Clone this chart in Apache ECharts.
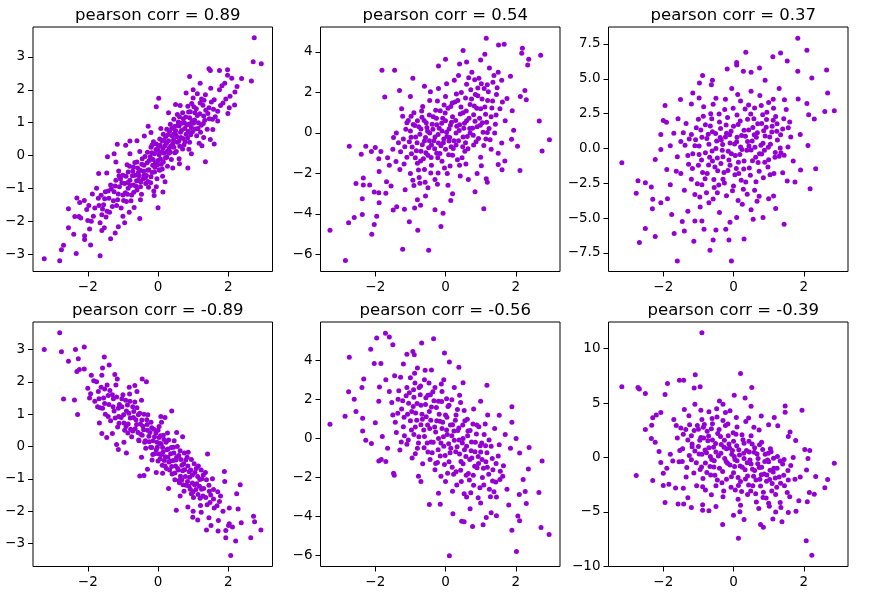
<!DOCTYPE html>
<html>
<head>
<meta charset="utf-8">
<script src="https://cdn.jsdelivr.net/npm/echarts@6/dist/echarts.min.js"></script>
<style>
  html, body { margin: 0; padding: 0; background: #fff; }
  #main { width: 887px; height: 595px; }
</style>
</head>
<body>
<div id="main"></div>
<script>
// titles and ticks
const titles = ['pearson corr = 0.89', 'pearson corr = 0.54', 'pearson corr = 0.37',
  'pearson corr = -0.89', 'pearson corr = -0.56', 'pearson corr = -0.39'];
const xTicks = [-2, 0, 2];
const yTicks1 = [-3, -2, -1, 0, 1, 2, 3];
const yTicks2 = [-6, -4, -2, 0, 2, 4];
const yTicks3 = [-7.5, -5, -2.5, 0, 2.5, 5, 7.5];
const yTicks4 = [-3, -2, -1, 0, 1, 2, 3];
const yTicks5 = [-6, -4, -2, 0, 2, 4];
const yTicks6 = [-10, -5, 0, 5, 10];

// points, [x, y]
const pts1 = [[2.74,3.58],[2.71,2.85],[2.94,2.79],[2.66,2.27],[2.38,2.34],[2.19,1.93],[1.98,2.44],[1.98,2.61],[1.75,2.59],[1.45,2.64],[1.49,2.59],[0.9,2.4],[2.18,1.54],[2.03,1.45],[1.99,1.28],[1.7,1.05],[1.56,0.79],[1.49,0.49],[1.35,-0.19],[0.85,-0.38],[0.61,-0.25],[0.02,1.74],[-0.05,1.48],[-0.28,0.89],[-0.39,0.59],[-0.8,0.44],[-0.92,0.31],[-1.16,0.34],[-1.44,-0.04],[-1.69,-0.55],[-1.46,-0.53],[0,-1.59],[0.14,-1.11],[-0.11,-1.22],[-0.52,-1.92],[-1.13,-2.17],[-1.22,-2.36],[-1.35,-2.53],[-1.65,-3.05],[-1.92,-2.72],[-2.09,-2.44],[-2.09,-2.56],[-2.33,-2.98],[-2.55,-2.2],[-2.55,-1.62],[-2.31,-1.29],[-2.23,-1.43],[-2.1,-1.37],[-2.37,-1.86],[-2.25,-1.86],[-2.69,-2.73],[-2.75,-2.87],[-2.8,-3.2],[-3.24,-3.14],[-1.95,-2.24],[-1.6,-2.28],[-1.53,-2.2],[-2.03,-1.64],[-1.84,-1.85],[-2.0,-1.98],
  [-1.8,-1.6],[-1.7,-1.3],[-1.6,-1.8],[-1.55,-1.5],[-1.5,-1.1],[-1.45,-1.7],[-1.4,-1.3],[-1.35,-0.9],[-1.3,-1.55],[-1.25,-1.1],[-1.2,-0.75],[-1.15,-1.35],[-1.1,-0.95],[-1.05,-1.6],[-1.0,-0.6],[-1.0,-1.2],[-0.95,-0.85],[-0.9,-1.4],[-0.85,-0.5],[-0.85,-1.0],[-0.8,-0.75],[-0.75,-1.2],[-0.7,-0.35],[-0.7,-0.9],[-0.65,-0.6],[-0.6,-1.05],[-0.6,-0.2],[-0.55,-0.75],[-0.5,-0.45],[-0.5,-0.95],[-0.45,-0.1],[-0.4,-0.6],[-0.4,-0.3],[-0.35,-0.85],[-0.3,0.1],[-0.3,-0.45],[-0.25,-0.15],[-0.2,-0.65],[-0.2,0.25],[-0.15,-0.3],[-0.1,0.05],[-0.1,-0.5],[-0.05,0.35],[0,-0.15],[0,0.15],[0.05,-0.45],[0.05,0.5],[0.1,0.1],[0.15,-0.2],[0.15,0.65],[0.2,0.3],[0.25,-0.05],[0.25,0.8],[0.3,0.45],[0.35,0.1],[0.35,0.95],[0.4,0.6],[0.45,0.25],[0.45,1.1],[0.5,0.75],[0.55,0.4],[0.55,1.25],[0.6,0.9],[0.65,0.55],[0.7,1.3],[0.7,0.2],[0.75,1.0],[0.8,0.65],[0.85,1.5],[0.9,1.15],[0.9,0.4],[0.95,0.85],[1.0,1.75],[1.05,1.3],[1.1,0.6],[1.15,1.0],[1.2,1.6],[1.25,0.3],[1.3,1.2],[1.35,1.85],[1.4,0.8],[1.45,1.45],[1.5,2.05],[1.55,1.1],[1.6,1.7],[1.7,1.35],[1.75,2.0],[1.85,1.6],[1.9,2.2],[2.05,1.8],[2.1,2.35],[2.25,2.1],
  [-2.2,-1.9],[-1.9,-2.0],[-1.75,-1.0],[-1.2,-0.2],[-1.0,-1.85],[-0.8,0.05],[-0.5,-1.35],[-0.2,0.7],[0.2,-0.8],[0.5,1.55],[0.6,-0.1],[0.95,0.05],[1.0,2.0],[1.2,2.2],[1.3,0.55],[-0.95,-2.05],[-1.65,-2.05],[0.3,1.3],[0.8,1.9],[-0.05,-0.95],[-0.6,0.45],[-1.25,0.05],[1.6,0.35],[-2.4,-2.4],
  [-1.62,-1.21],[-1.48,-1.87],[-1.33,-1.02],[-1.18,-1.52],[-1.07,-0.71],[-0.93,-1.13],[-0.88,-0.28],[-0.77,-1.38],[-0.73,-0.62],[-0.63,-0.93],[-0.58,-0.38],[-0.47,-1.18],[-0.42,-0.71],[-0.37,-0.03],[-0.33,-0.61],[-0.27,-0.97],[-0.22,-0.04],[-0.17,-0.52],[-0.13,0.42],[-0.07,-0.23],[-0.03,-0.71],[0.02,0.27],[0.07,-0.11],[0.12,0.44],[0.13,-0.63],[0.18,0.07],[0.22,0.58],[0.27,-0.33],[0.32,0.22],[0.33,0.73],[0.38,-0.12],[0.42,0.36],[0.47,0.88],[0.52,0.12],[0.53,0.57],[0.58,1.02],[0.62,0.28],[0.67,0.76],[0.72,1.12],[0.77,0.42],[0.82,0.93],[0.87,1.32],[0.88,0.19],[0.93,0.63],[0.97,1.05],[1.02,1.48],[1.07,0.81],[1.12,1.22],[1.17,0.37],[1.23,0.92],[1.28,1.53],[1.33,1.07],[1.42,1.28],[1.52,1.63],[1.63,1.18],[1.78,1.52],[1.82,2.12],[1.93,1.72],[-1.97,-1.52],[-1.87,-1.17],[-1.38,-1.73],[-0.68,-1.58],[-0.12,-1.08],[0.42,-0.38],[0.63,1.52],[1.12,1.88],[-1.12,-0.47],[-0.52,0.12],[0.08,0.82],[-0.82,-1.73],
  [-1.27,-1.38],[-1.22,-0.93],[-1.13,-1.17],[-1.03,-0.83],[-0.98,-1.37],[-0.91,-0.63],[-0.87,-1.18],[-0.79,-0.91],[-0.72,-0.48],[-0.69,-1.12],[-0.61,-0.77],[-0.56,-0.52],[-0.49,-0.81],[-0.46,-0.27],[-0.41,-0.48],[-0.36,-0.67],[-0.31,-0.22],[-0.26,-0.43],[-0.21,-0.83],[-0.18,0.08],[-0.14,-0.12],[-0.09,-0.36],[-0.06,0.18],[-0.02,-0.28],[0.03,0.02],[0.06,0.31],[0.09,-0.27],[0.14,0.21],[0.17,0.47],[0.21,-0.08],[0.24,0.37],[0.28,0.63],[0.31,0.07],[0.36,0.28],[0.39,0.82],[0.44,0.47],[0.48,0.08],[0.51,0.62],[0.56,0.92],[0.59,0.43],[0.64,0.71],[0.68,0.98],[0.71,0.52],[0.76,0.82],[0.79,1.17],[0.84,0.53],[0.89,0.96],[0.92,1.33],[0.98,0.72],[1.04,1.08],[1.09,1.42],[1.14,0.82],[1.19,1.27],[1.24,1.72],[1.29,0.97],[1.36,1.38],[1.46,1.12],[1.58,1.41],[-1.42,-1.08],[-1.52,-1.32],[-1.58,-1.63],[-1.68,-1.52],[-1.11,-0.62],[-0.86,-0.82],[-0.66,-0.21],[-0.29,-0.79],[0.12,-0.41],[0.46,0.66],[0.74,0.33],[1.01,0.98],[1.31,1.68],[-0.54,-0.62],[0.03,-0.43],[0.61,1.18],[0.86,0.74],[-0.81,-0.33],[-0.17,0.32],[0.27,0.14],[1.21,0.71],[0.96,1.58]];

const pts2 = [[1.16,4.67],[1.51,4.34],[1.67,4.38],[2.19,4.18],[2.17,3.93],[2.71,3.84],[2.37,3.64],[2.34,3.36],[0.5,4.07],[0,3.64],[1.12,3.89],[-1.81,3.1],[-1.45,3.1],[-0.93,2.7],[-1.73,1.77],[-1.31,2.1],[2.67,0.59],[2.96,-0.34],[2.75,-0.89],[2.13,1.8],[2.3,1.64],[2.26,2.1],[-2.74,-0.66],[-2.4,-1.05],[-2.27,-0.66],[-2.0,-0.72],[-2.11,-0.92],[-2.55,-2.49],[-2.34,-2.23],[-2.34,-2.57],[-2.37,-3.25],[-2.16,-2.57],[-3.29,-4.8],[-2.76,-4.43],[-2.6,-4.18],[-2.37,-4.03],[-2.85,-6.3],[-2.1,-5.0],[-2.03,-4.52],[-1.96,-4.11],[-1.22,-5.74],[-0.48,-5.79],[-0.79,-4.8],[-0.13,-4.62],[-0.07,-3.97],[-1.03,-4.38],[1.09,-3.74],[0.84,-2.9],[1.16,-2.26],[1.19,-2.44],[1.61,-1.82],[2.12,-1.85],[1.69,-1.39],[1.5,-1.56],[2.05,-0.66],[1.88,-0.31],[1.94,0.13],[0.15,-3.34],[-0.3,-3.79],[-0.57,-3.11],[-1.49,-3.8],[-1.39,-3.64],[-1.17,-3.77],[-0.88,-3.7],[-0.71,-3.57],[-1.89,-3.44],[-1.7,-2.98],[-1.9,-2.95],[-2.03,-2.92],[-1.89,-1.9],[-1.68,-2.41],[-1.55,-2.62],[-1.84,-0.92],[-1.9,-1.28],[-1.65,-1.23],[-1.41,-1.41],
  [-1.2,-0.3],[-1.1,0.5],[-1.1,-1.2],[-1.0,-2.0],[-1.0,0.1],[-0.95,-0.7],[-0.9,1.0],[-0.9,-2.6],[-0.85,-0.2],[-0.8,-1.5],[-0.8,0.6],[-0.75,-2.2],[-0.7,-0.9],[-0.7,0.2],[-0.65,1.3],[-0.6,-0.4],[-0.6,-1.8],[-0.55,0.5],[-0.5,-1.1],[-0.5,-2.7],[-0.45,0.0],[-0.45,1.6],[-0.4,-0.6],[-0.4,-1.6],[-0.35,0.8],[-0.3,-0.2],[-0.3,-2.3],[-0.25,0.4],[-0.25,-1.0],[-0.2,2.2],[-0.2,-0.5],[-0.15,1.1],[-0.1,0.1],[-0.1,-1.4],[-0.05,-0.3],[0,0.6],[0,-0.8],[0,1.8],[0.05,-2.0],[0.1,0.2],[0.1,-0.4],[0.15,1.3],[0.2,-1.1],[0.2,0.8],[0.25,2.6],[0.3,0.0],[0.3,-0.6],[0.35,1.6],[0.4,0.4],[0.4,-1.6],[0.45,2.0],[0.5,-0.2],[0.5,1.0],[0.55,-0.9],[0.6,0.6],[0.6,2.4],[0.65,-2.3],[0.7,1.4],[0.7,0.0],[0.75,3.0],[0.8,0.9],[0.8,-0.6],[0.85,1.9],[0.9,0.3],[0.95,2.7],[1.0,-1.2],[1.0,1.2],[1.05,0.5],[1.1,2.2],[1.15,-0.3],[1.2,1.6],[1.25,3.2],[1.3,0.8],[1.35,2.5],[1.4,0.0],[1.45,1.9],[1.5,3.0],[1.55,1.2],[1.6,2.6],[1.7,0.6],[1.75,1.7],[1.85,2.8],[1.9,1.1],[-1.3,-1.8],[-1.4,0.0],[-1.5,-0.8],[-1.6,-1.6],[-1.25,1.2],[-1.15,-2.8],[-0.2,3.3],[0.4,3.4],[0.9,-2.0],[0.2,-3.0],[-0.8,-3.3],[-0.6,2.3],[1.3,-0.8],[1.6,-0.5],[0.6,3.5],[1.0,3.6],[-1.0,1.8],[1.5,-1.0],
  [-1.13,0.18],[-1.03,-0.43],[-0.97,-1.03],[-0.87,0.37],[-0.83,-0.88],[-0.77,-1.83],[-0.73,-0.07],[-0.67,0.78],[-0.63,-1.27],[-0.57,-0.23],[-0.53,0.27],[-0.48,-0.73],[-0.42,-1.98],[-0.38,0.43],[-0.33,-0.38],[-0.28,1.12],[-0.22,-1.23],[-0.18,0.23],[-0.13,-0.63],[-0.08,0.72],[-0.03,-1.73],[0.03,0.03],[0.07,1.22],[0.12,-0.23],[0.17,0.53],[0.22,-0.77],[0.27,1.53],[0.32,0.33],[0.37,-0.38],[0.42,0.93],[0.47,-1.23],[0.52,0.23],[0.57,1.72],[0.62,-0.18],[0.67,0.73],[0.72,2.13],[0.77,0.23],[0.82,1.33],[0.87,-0.43],[0.92,1.83],[0.97,0.73],[1.02,2.43],[1.07,0.03],[1.12,1.28],[1.17,0.53],[1.22,2.03],[1.32,1.23],[1.42,0.43],[1.47,2.23],[1.62,1.53],[-1.28,-0.93],[-1.18,-1.53],[-0.93,-2.33],[-0.58,-2.43],[-0.23,-2.53],[0.13,-1.63],[0.58,-1.53],[1.27,-0.33],[-1.48,-0.23],[-0.98,0.83],[-0.43,2.03],[0.03,2.43],[0.37,2.83],[0.83,2.63],[1.38,2.83],
  [-0.98,-0.21],[-0.92,0.42],[-0.86,-1.22],[-0.81,-0.48],[-0.76,0.31],[-0.71,-1.38],[-0.66,-0.58],[-0.61,0.62],[-0.56,-0.98],[-0.51,0.08],[-0.46,-0.38],[-0.41,-1.21],[-0.36,0.18],[-0.31,-0.78],[-0.26,0.72],[-0.21,-0.08],[-0.16,-1.02],[-0.11,0.48],[-0.06,-0.48],[-0.01,0.98],[0.04,-0.18],[0.09,-1.08],[0.14,0.38],[0.19,1.48],[0.24,-0.38],[0.29,0.62],[0.34,-1.32],[0.39,0.12],[0.44,1.28],[0.49,-0.68],[0.54,0.48],[0.59,1.08],[0.64,-0.78],[0.69,0.22],[0.74,1.68],[0.79,-0.12],[0.84,0.58],[0.89,1.22],[0.94,-0.28],[0.99,0.38],[1.04,1.68],[1.09,-0.62],[1.14,0.92],[1.19,2.38],[1.24,0.22],[1.34,1.58],[1.44,0.88],[-1.06,0.62],[-1.16,-0.68],[-0.68,1.08],[-0.23,1.58],[0.31,1.92],[0.66,2.72],[-0.73,-2.48],[-0.21,-1.98],[0.42,-2.12],[1.02,-1.62],[-0.46,0.88],[0.16,-0.68],[0.57,-0.48],[-0.04,1.38],[1.19,0.02],[0.92,2.22],[-1.22,0.82],[-1.34,-0.48],[0.07,-2.58]];

const pts3 = [[1.83,7.92],[2.09,7.06],[1.34,6.85],[1.12,6.59],[1.53,6.28],[0.35,6.9],[0.09,6.18],[0.09,5.99],[2.65,5.63],[2.23,5.06],[1.83,5.54],[2.68,3.99],[2.87,2.7],[2.6,2.65],[2.09,3.22],[2.3,2.12],[1.84,3.56],[2.14,2.43],[2.12,0.21],[2.34,-1.46],[1.91,-1.55],[2.18,-2.89],[1.44,-5.44],[-3.18,-1.03],[-2.72,-2.32],[-2.51,-2.46],[-2.77,-3.22],[-2.68,-6.75],[-2.51,-5.75],[-2.23,-6.32],[-2.3,-3.65],[-2.31,-4.32],[-2.07,-3.89],[-2.34,-2.77],[-2.23,-0.79],[-2.07,-0.07],[-2.07,1.0],[-1.95,3.08],[-1.91,1.89],[-1.51,3.51],[-1.16,3.99],[-0.88,5.23],[-0.97,4.7],[-0.63,4.58],[-0.18,5.7],[0.28,5.54],[0.5,5.47],[0.74,5.78],[-1.6,-8.07],[-0.06,-8.07],[-0.67,-7.3],[-0.13,-6.56],[-0.58,-6.56],[-1.13,-6.66],[-1.69,-6.11],[-1.76,-4.73],[-1.88,-3.6],[-1.46,-5.25],[-1.4,-5.92],[-0.84,-5.8],[-0.5,-5.85],[-0.22,-5.8],[0.09,-4.96],[0.56,-5.08],[0.84,-4.96],[1.14,-3.41],[1.53,-2.34],[1.4,-1.74],[1.3,-0.55],
  [-1.3,-0.5],[-1.2,1.0],[-1.2,-2.2],[-1.1,0.2],[-1.1,-3.3],[-1.0,2.1],[-1.0,-1.2],[-0.95,-4.2],[-0.9,0.8],[-0.9,-2.6],[-0.85,3.0],[-0.8,-0.3],[-0.8,1.7],[-0.75,-1.8],[-0.7,0.3],[-0.7,-3.9],[-0.65,2.5],[-0.6,-0.9],[-0.6,1.2],[-0.55,-2.8],[-0.5,0.0],[-0.5,3.6],[-0.45,-1.6],[-0.4,1.9],[-0.4,-4.6],[-0.35,0.6],[-0.3,-0.6],[-0.3,-2.2],[-0.25,2.8],[-0.2,1.1],[-0.2,-3.4],[-0.15,-0.2],[-0.1,0.4],[-0.1,-1.2],[-0.05,4.3],[0,1.6],[0,-2.7],[0.05,-0.5],[0.1,0.8],[0.1,2.4],[0.15,-1.8],[0.2,0.1],[0.2,3.4],[0.25,-4.0],[0.3,1.3],[0.3,-0.9],[0.35,-2.4],[0.4,0.5],[0.4,2.1],[0.45,-1.4],[0.5,4.1],[0.5,-0.1],[0.55,1.5],[0.6,-3.0],[0.6,2.9],[0.65,0.8],[0.7,-1.0],[0.75,3.8],[0.8,1.8],[0.8,-0.4],[0.85,-2.1],[0.9,0.9],[0.95,2.6],[1.0,-0.8],[1.0,3.3],[1.05,0.3],[1.1,1.6],[1.15,-1.8],[1.2,2.3],[1.25,0.6],[1.3,4.3],[1.35,-0.3],[1.4,1.4],[1.5,2.8],[1.55,0.1],[1.6,1.9],[1.7,-0.9],[-1.5,0.5],[-1.5,-1.8],[-1.4,-3.0],[-1.35,1.8],[-1.6,-0.6],[-1.7,1.1],[-1.8,-2.6],[-1.9,-1.5],[-1.3,-4.5],[-1.1,-5.2],[-0.1,-5.3],[0.5,-4.4],[1.0,-3.6],[1.2,-4.3],[-0.6,4.9],[0.9,4.9],[1.45,3.5],[1.9,1.0],[1.75,-2.4],[-2.0,2.0],[-1.8,0.2],[-1.2,3.2],[0.3,-6.5],[-0.9,-5.2],
  [-1.17,-1.43],[-1.08,0.63],[-0.98,-0.43],[-0.93,1.33],[-0.88,-1.73],[-0.77,-3.17],[-0.72,1.03],[-0.68,-0.63],[-0.62,2.13],[-0.53,-1.33],[-0.48,0.53],[-0.42,-2.63],[-0.37,1.43],[-0.32,-0.13],[-0.27,-1.73],[-0.23,0.83],[-0.17,2.23],[-0.13,-0.83],[-0.07,1.23],[-0.03,-3.03],[0.03,0.33],[0.08,-1.43],[0.13,1.73],[0.18,-0.43],[0.23,0.93],[0.28,-2.93],[0.33,2.83],[0.38,-0.13],[0.43,1.33],[0.48,-1.93],[0.53,0.53],[0.58,2.13],[0.63,-0.63],[0.68,1.13],[0.73,-1.63],[0.78,0.23],[0.83,2.43],[0.88,-0.13],[0.93,1.53],[0.98,-1.33],[1.03,0.83],[1.13,2.03],[1.18,-0.63],[1.23,1.23],[1.33,0.03],[1.43,2.13],[-1.38,0.23],[-1.28,-1.13],[-1.43,1.13],[-1.03,-2.53],[-0.58,-3.63],[0.13,-3.73],[0.73,-3.43],[-0.23,3.53],[0.43,3.13],[1.13,3.53],[1.63,0.83],[-1.63,-1.63],[-1.58,2.13],[-0.98,3.63],
  [-0.98,0.18],[-0.91,-0.82],[-0.86,2.32],[-0.81,-2.18],[-0.76,0.72],[-0.71,-1.18],[-0.66,1.62],[-0.61,-0.18],[-0.56,-2.22],[-0.51,1.08],[-0.46,-0.68],[-0.41,2.48],[-0.36,-1.08],[-0.31,0.28],[-0.26,-2.48],[-0.21,1.68],[-0.16,-1.58],[-0.11,0.98],[-0.06,-0.38],[-0.01,2.88],[0.04,-1.88],[0.09,0.48],[0.14,-0.98],[0.19,1.98],[0.24,-0.08],[0.29,-1.48],[0.34,0.88],[0.39,-3.28],[0.44,0.18],[0.49,2.48],[0.54,-0.88],[0.59,0.98],[0.64,-2.38],[0.69,1.78],[0.74,-0.38],[0.79,3.08],[0.84,0.38],[0.89,-0.98],[0.94,2.08],[0.99,0.08],[1.04,-1.88],[1.09,1.18],[1.14,2.88],[1.19,-0.28],[1.24,1.78],[1.34,0.98],[1.44,-0.48],[-1.06,1.48],[-1.16,-0.38],[-1.26,0.68],[-0.58,3.18],[0.12,3.88],[-0.46,-3.18],[0.67,-3.78],[-0.96,-3.48],[1.56,1.48],[0.22,-2.28],[-0.38,0.78],[0.61,0.08],[0.86,1.28]];

const pts4 = [[-2.8,3.52],[-3.24,3.0],[-2.75,2.93],[-2.55,2.64],[-2.35,3.0],[-2.27,2.71],[-2.1,3.08],[-2.69,1.47],[-2.38,1.44],[-2.29,0.99],[-2.31,2.32],[-2.24,2.38],[-1.53,2.77],[-1.39,2.52],[-1.16,2.09],[-0.66,1.89],[-0.45,2.09],[-0.33,2.0],[0.39,1.1],[-1.18,0.06],[-1.13,-0.09],[-1.46,0.28],[-0.52,-0.91],[0.52,-1.97],[0.85,-1.87],[0.95,-1.46],[1.41,-0.23],[1.89,-0.77],[1.9,-1.08],[2.34,-1.18],[2.24,-1.46],[2.03,-1.9],[2.28,-1.93],[2.37,-2.36],[2.72,-2.16],[2.75,-2.33],[2.93,-2.58],[2.64,-2.82],[2.21,-2.92],[2.07,-3.37],[1.93,-2.82],[1.93,-2.6],[1.71,-2.61],[1.51,-2.44],[1.38,-2.58],[2.01,-2.44],[2.12,-2.49],[0.99,-2.19],[1.13,-2.27],[2.03,-2.39],[1.72,-2.29],
  [-2.0,1.8],[-1.9,2.2],[-1.8,1.4],[-1.75,2.0],[-1.7,1.7],[-1.65,1.2],[-1.6,2.2],[-1.55,1.5],[-1.5,1.0],[-1.45,1.9],[-1.4,1.3],[-1.35,0.8],[-1.3,1.6],[-1.25,1.1],[-1.2,1.9],[-1.15,0.6],[-1.1,1.3],[-1.05,0.9],[-1.0,1.6],[-0.95,0.5],[-0.9,1.1],[-0.85,0.7],[-0.8,1.4],[-0.75,0.3],[-0.7,0.9],[-0.65,0.55],[-0.6,1.2],[-0.55,0.2],[-0.5,0.7],[-0.45,0.35],[-0.4,1.0],[-0.35,-0.05],[-0.3,0.5],[-0.25,0.15],[-0.2,0.75],[-0.15,-0.25],[-0.1,0.3],[-0.05,-0.1],[0,0.5],[0,-0.45],[0.05,0.1],[0.1,-0.25],[0.15,0.35],[0.2,-0.6],[0.25,-0.1],[0.3,0.2],[0.35,-0.45],[0.4,-0.85],[0.45,-0.2],[0.5,-0.6],[0.55,0.0],[0.6,-1.05],[0.65,-0.4],[0.7,-0.75],[0.75,-0.2],[0.8,-1.2],[0.85,-0.6],[0.9,-0.95],[0.95,-0.4],[1.0,-1.4],[1.05,-0.8],[1.1,-1.15],[1.15,-0.6],[1.2,-1.6],[1.25,-1.0],[1.3,-1.3],[1.35,-0.8],[1.4,-1.8],[1.45,-1.2],[1.5,-1.5],[1.55,-1.0],[1.6,-1.9],[1.7,-1.4],[1.75,-1.7],[1.85,-2.0],[-2.1,2.4],[-1.95,1.5],[-1.3,0.4],[-0.6,1.7],[0.2,0.9],[0.7,0.3],[-0.9,-0.2],[-0.3,-0.7],[0.3,-1.3],[1.0,-2.0],[-0.4,-0.9],[-1.6,0.4],[1.45,-2.2],[0.1,0.75],[-0.05,-0.8],
  [-1.92,1.63],[-1.83,2.03],[-1.72,1.23],[-1.62,1.83],[-1.52,1.33],[-1.42,0.93],[-1.37,1.73],[-1.28,1.23],[-1.18,1.53],[-1.12,0.93],[-1.03,1.23],[-0.97,0.73],[-0.92,1.43],[-0.83,1.03],[-0.78,0.53],[-0.72,1.23],[-0.63,0.83],[-0.57,0.43],[-0.52,1.03],[-0.43,0.63],[-0.38,0.13],[-0.32,0.83],[-0.23,0.43],[-0.18,-0.03],[-0.12,0.53],[-0.03,0.13],[0.03,-0.23],[0.07,0.33],[0.13,-0.03],[0.18,-0.43],[0.23,0.13],[0.28,-0.33],[0.33,-0.73],[0.38,-0.03],[0.43,-0.43],[0.48,-1.03],[0.53,-0.33],[0.58,-0.73],[0.63,-0.13],[0.68,-1.03],[0.73,-0.53],[0.78,-0.93],[0.83,-0.33],[0.88,-1.23],[0.93,-0.73],[0.98,-1.13],[1.03,-0.53],[1.08,-1.33],[1.13,-0.93],[1.18,-1.23],[1.23,-0.73],[1.28,-1.53],[1.38,-1.03],[1.48,-1.73],[1.58,-1.33],[1.68,-1.83],[1.78,-1.53],[-1.58,2.43],[-1.23,2.23],[-0.82,1.83],[-0.47,1.43],[0.08,0.93],[0.53,0.43],[-1.67,0.73],[-0.97,0.13],[-0.47,-0.33],[0.13,-0.83],[0.63,-1.53],[1.23,-2.03],
  [-1.27,1.48],[-1.22,0.88],[-1.13,1.18],[-1.03,1.48],[-0.98,0.98],[-0.91,0.62],[-0.87,1.28],[-0.79,0.88],[-0.72,0.48],[-0.69,1.08],[-0.61,0.68],[-0.56,0.98],[-0.49,0.38],[-0.46,0.82],[-0.41,0.52],[-0.36,0.18],[-0.31,0.68],[-0.26,0.32],[-0.21,-0.02],[-0.18,0.58],[-0.14,0.18],[-0.09,-0.22],[-0.06,0.42],[-0.02,-0.02],[0.03,0.28],[0.06,-0.38],[0.09,0.08],[0.14,-0.18],[0.17,0.22],[0.21,-0.32],[0.24,-0.68],[0.28,-0.08],[0.31,-0.48],[0.36,-0.22],[0.39,-0.62],[0.44,-0.02],[0.48,-0.82],[0.51,-0.42],[0.56,-0.68],[0.59,-0.28],[0.64,-0.92],[0.68,-0.58],[0.71,-1.18],[0.76,-0.72],[0.79,-0.42],[0.84,-1.08],[0.89,-0.78],[0.92,-1.32],[0.98,-0.88],[1.04,-1.18],[1.09,-0.68],[1.14,-1.48],[1.19,-1.02],[1.24,-1.32],[1.29,-0.88],[1.36,-1.58],[1.46,-1.38],[1.58,-1.62],[-1.42,1.58],[-1.52,1.78],[-1.58,1.18],[-1.68,1.48],[-1.11,0.72],[-0.86,0.42],[-0.66,1.38],[-0.29,0.98],[0.12,-0.58],[0.46,0.18],[0.74,-1.38],[1.01,-1.58],[-0.54,0.18],[0.03,0.62],[0.61,-1.12],[0.86,-0.18],[-0.81,1.62],[-0.17,-0.42],[0.27,0.42],[1.21,-1.82]];

const pts5 = [[-3.29,0.72],[-2.86,1.13],[-2.74,4.15],[-2.76,2.39],[-2.6,2.0],[-2.55,1.38],[-2.36,1.03],[-2.36,0.38],[-2.27,-0.09],[-2.38,2.6],[-2.33,3.04],[-2.11,-0.26],[-1.71,5.38],[-1.96,5.13],[-2.13,4.56],[-2.03,3.83],[-1.84,3.83],[-1.6,5.18],[-1.5,4.79],[-0.93,4.44],[-0.89,4.27],[-0.68,4.87],[-0.34,5.09],[-0.03,4.36],[0.11,3.9],[0.38,3.64],[-1.9,-1.15],[-1.83,-1.08],[-1.7,-1.18],[-1.48,-1.78],[-1.46,-1.88],[-0.77,-1.93],[-0.46,-3.38],[-0.15,-3.37],[0.11,-6.0],[0.21,-3.85],[0.46,-4.24],[0.53,-4.26],[0.77,-4.51],[1.07,-4.41],[1.16,-4.05],[1.45,-3.95],[1.89,-4.7],[2.02,-5.78],[2.06,-3.97],[2.11,-4.21],[2.72,-4.56],[2.95,-4.91],[2.66,-2.77],[2.27,-2.72],[2.3,-3.33],[2.1,-2.87],[2.21,-2.1],[2.36,-1.57],[2.38,-0.46],[2.75,-1.15],[2.11,-0.75],[2.01,0.0],[1.89,1.62],[1.89,0.82],[1.53,1.18],[1.18,2.72],[0.5,2.84],[1.85,-0.51],
  [-1.6,2.4],[-1.5,1.2],[-1.45,3.2],[-1.4,0.3],[-1.35,2.0],[-1.3,-0.6],[-1.25,1.5],[-1.2,3.8],[-1.2,0.6],[-1.1,2.6],[-1.1,-0.3],[-1.05,1.8],[-1.0,0.9],[-1.0,3.1],[-0.95,-1.0],[-0.9,2.1],[-0.9,0.2],[-0.85,1.3],[-0.8,3.6],[-0.8,-0.5],[-0.75,2.6],[-0.7,0.7],[-0.7,1.7],[-0.65,-1.3],[-0.6,3.0],[-0.6,0.1],[-0.55,1.1],[-0.5,2.2],[-0.5,-0.7],[-0.45,0.5],[-0.4,1.6],[-0.4,3.5],[-0.35,-0.2],[-0.3,2.6],[-0.3,-1.6],[-0.25,0.9],[-0.2,0.0],[-0.2,1.9],[-0.15,-0.9],[-0.1,0.5],[-0.1,2.4],[-0.05,-0.4],[0,1.2],[0,-2.2],[0.05,0.2],[0.1,-1.2],[0.1,1.7],[0.15,-0.5],[0.2,0.7],[0.2,-2.7],[0.25,-0.1],[0.3,1.2],[0.3,-1.7],[0.35,0.4],[0.4,-0.8],[0.4,2.2],[0.45,-2.2],[0.5,0.0],[0.5,-1.3],[0.55,0.9],[0.6,-0.4],[0.6,-3.0],[0.65,-1.8],[0.7,0.4],[0.75,-1.0],[0.8,1.5],[0.8,-2.4],[0.85,-0.2],[0.9,-1.5],[0.95,0.6],[1.0,-3.3],[1.0,-0.7],[1.05,-2.0],[1.1,0.2],[1.15,-1.2],[1.2,1.2],[1.25,-2.6],[1.3,-0.4],[1.35,-1.6],[1.4,0.5],[1.45,-3.0],[1.5,-0.9],[1.55,-2.1],[1.65,-1.4],[1.7,0.2],[1.75,-2.6],[-1.9,1.9],[-1.8,0.1],[-1.7,3.0],[-1.65,-0.5],[-2.0,0.8],[1.8,-3.4],[1.3,-3.8],[0.7,-3.6],[-0.2,-2.8],[-0.7,-2.2],[-1.1,4.3],[1.0,1.9],[-0.05,3.0],[0.25,2.6],
  [-1.43,0.83],[-1.33,2.43],[-1.22,1.93],[-1.17,0.13],[-1.08,1.23],[-1.03,2.33],[-0.97,0.43],[-0.92,1.63],[-0.87,2.83],[-0.82,0.93],[-0.77,-0.23],[-0.72,2.23],[-0.67,1.23],[-0.62,0.43],[-0.57,1.73],[-0.52,-0.23],[-0.47,2.83],[-0.42,0.93],[-0.38,-0.73],[-0.33,1.93],[-0.28,0.33],[-0.23,-1.23],[-0.18,1.23],[-0.13,-0.23],[-0.08,0.83],[-0.03,-1.33],[0.03,0.43],[0.07,1.63],[0.13,-0.73],[0.18,0.13],[0.23,-1.83],[0.28,0.93],[0.33,-0.43],[0.38,0.53],[0.43,-1.63],[0.48,-0.23],[0.53,1.43],[0.58,-0.93],[0.63,0.13],[0.68,-2.13],[0.73,-0.63],[0.78,0.73],[0.83,-1.43],[0.88,0.23],[0.93,-0.93],[0.98,-2.53],[1.03,-0.23],[1.08,-1.53],[1.13,0.73],[1.18,-0.73],[1.23,-1.83],[1.33,-1.03],[1.43,-2.23],[1.53,-0.33],[1.63,-1.93],[-1.53,1.83],[-1.28,3.13],[-0.88,3.33],[-0.43,2.23],[0.03,2.03],[0.43,1.83],[0.93,-3.03],[0.53,-2.83],[-0.13,-1.93],[1.38,-2.73],[-1.88,2.63],
  [-1.18,1.08],[-1.12,2.18],[-1.06,-0.08],[-0.96,1.38],[-0.91,2.48],[-0.86,0.58],[-0.81,1.78],[-0.76,0.08],[-0.71,2.68],[-0.66,0.98],[-0.61,-0.48],[-0.56,2.08],[-0.51,0.68],[-0.46,1.38],[-0.41,-0.18],[-0.36,2.38],[-0.31,0.58],[-0.26,1.58],[-0.21,-0.58],[-0.16,0.88],[-0.11,1.88],[-0.06,0.08],[-0.01,-0.88],[0.04,1.08],[0.09,-0.28],[0.14,0.68],[0.19,-1.48],[0.24,0.38],[0.29,-0.68],[0.34,1.48],[0.39,-0.08],[0.44,-1.18],[0.49,0.68],[0.54,-0.58],[0.59,-1.88],[0.64,0.38],[0.69,-1.08],[0.74,-0.18],[0.79,-1.88],[0.84,-0.68],[0.89,0.68],[0.94,-1.28],[0.99,-0.38],[1.04,-1.08],[1.09,-2.38],[1.14,-0.38],[1.19,-1.48],[1.24,-0.08],[1.34,-2.18],[1.44,-1.28],[-1.26,-0.18],[-1.36,1.28],[-0.58,3.48],[-0.12,2.78],[0.32,-2.38],[0.72,-2.78],[-0.28,-1.28],[0.18,1.98],[-0.86,-0.78],[1.56,-1.68],[0.06,-1.78],[-0.44,-1.08],[0.62,0.98],[1.28,-2.98]];

const pts6 = [[-3.18,6.51],[-2.72,6.42],[-2.68,6.3],[-2.51,5.87],[-2.51,2.57],[-2.3,3.64],[-2.33,2.97],[-2.34,1.74],[-2.23,1.41],[-2.12,0.55],[-2.07,-0.46],[-2.3,-2.11],[-2.77,-1.65],[-2.0,-1.44],[-2.0,-2.57],[-1.84,-2.45],[-1.95,-4.13],[-1.58,-4.28],[-1.42,-4.28],[-0.88,-4.34],[-0.88,-4.86],[-0.31,-6.15],[0.14,-7.43],[0.77,-6.15],[0.85,-6.42],[2.07,-7.65],[2.23,-8.99],[1.78,-4.95],[1.38,-5.9],[1.12,-5.66],[1.56,-5.05],[1.86,-3.98],[2.1,-4.07],[2.16,-3.21],[2.3,-3.39],[2.6,-2.78],[2.68,-2.02],[2.34,-1.74],[2.87,-0.52],[2.08,-1.16],[2.12,-0.09],[1.95,4.34],[2.17,0.64],[2.03,0.73],[1.47,4.16],[1.47,4.74],[1.56,1.93],[1.77,1.56],[1.61,2.35],[-0.9,11.47],[-1.09,7.61],[0.2,7.71],[0.52,6.42],[-1.88,6.79],[-1.54,7.09],[-1.42,7.09],[-1.12,6.39],[-0.95,6.51],[-1.95,5.78],[0.33,5.47],[0.02,5.72],[-2.07,4.13],[0.79,3.82],[1.16,3.67],[1.26,2.91],
  [-1.7,3.5],[-1.6,1.8],[-1.55,-0.4],[-1.5,2.7],[-1.45,0.8],[-1.4,4.4],[-1.35,-1.8],[-1.3,1.6],[-1.25,3.0],[-1.2,-0.2],[-1.2,2.0],[-1.1,4.9],[-1.1,0.6],[-1.05,-2.6],[-1.0,2.6],[-1.0,1.0],[-0.95,-1.1],[-0.9,3.5],[-0.9,0.3],[-0.85,1.8],[-0.8,-3.0],[-0.8,-0.5],[-0.75,2.4],[-0.7,4.2],[-0.7,0.9],[-0.65,-1.6],[-0.6,1.6],[-0.6,3.1],[-0.55,-0.3],[-0.5,0.5],[-0.5,-2.6],[-0.45,2.2],[-0.4,5.2],[-0.4,-1.0],[-0.35,1.2],[-0.3,-3.6],[-0.3,3.4],[-0.25,-0.1],[-0.2,0.8],[-0.2,-2.0],[-0.15,2.0],[-0.1,-0.7],[-0.1,4.3],[-0.05,0.3],[0,-1.4],[0,1.5],[0.05,-3.0],[0.1,-0.3],[0.1,2.8],[0.15,0.7],[0.2,-2.2],[0.2,-4.4],[0.25,-0.9],[0.3,1.3],[0.3,-0.1],[0.35,3.3],[0.4,-1.7],[0.4,-3.4],[0.45,0.5],[0.5,-0.6],[0.5,2.0],[0.55,-2.6],[0.6,-1.2],[0.6,0.9],[0.65,-4.1],[0.7,-0.1],[0.75,-2.0],[0.8,1.4],[0.8,-0.9],[0.85,-3.2],[0.9,0.3],[0.95,-1.6],[1.0,-4.2],[1.0,-0.4],[1.05,0.8],[1.1,-2.4],[1.15,-1.0],[1.2,-3.4],[1.25,0.1],[1.3,-1.8],[1.35,-4.6],[1.4,-0.6],[1.45,-2.6],[1.55,-1.2],[1.6,-3.6],[1.7,0.0],[1.75,-2.0],[-1.8,0.3],[-1.9,-1.0],[-1.65,-2.8],[-1.3,-3.7],[-1.2,-4.6],[-0.5,-4.5],[0.0,-5.3],[0.3,-5.7],[-0.3,4.9],[0.5,4.7],[1.0,3.0],[1.2,-5.0],[-2.2,3.9],[1.9,-1.8],[-0.7,-4.9],
  [-1.53,0.63],[-1.43,2.13],[-1.33,-0.93],[-1.27,3.83],[-1.18,1.23],[-1.13,-1.43],[-1.03,2.93],[-0.98,0.33],[-0.93,1.83],[-0.87,-1.93],[-0.83,3.03],[-0.77,0.43],[-0.73,1.53],[-0.67,-0.83],[-0.63,2.63],[-0.57,0.93],[-0.53,-1.63],[-0.47,3.73],[-0.43,0.13],[-0.37,1.93],[-0.33,-2.33],[-0.27,0.93],[-0.23,2.93],[-0.17,-0.53],[-0.13,1.23],[-0.07,-2.73],[-0.03,0.63],[0.03,-0.83],[0.07,2.13],[0.13,-1.83],[0.17,0.23],[0.23,-3.13],[0.27,1.63],[0.33,-1.13],[0.37,0.63],[0.43,-2.53],[0.47,-0.23],[0.53,1.23],[0.57,-1.73],[0.63,-3.33],[0.67,0.33],[0.73,-0.93],[0.77,-2.63],[0.83,0.73],[0.87,-1.53],[0.93,-3.73],[0.97,-0.23],[1.03,-2.03],[1.07,0.53],[1.13,-1.33],[1.23,-2.73],[1.33,-0.33],[1.43,-1.63],[1.53,-3.23],[1.63,-0.73],[-1.63,2.93],[-1.73,-0.33],[-0.93,4.33],[-0.23,4.13],[0.43,3.63],[0.13,-3.83],[-0.63,-3.43],[1.33,-4.13],[0.73,2.53],[-1.43,-2.83],
  [-1.18,0.98],[-1.12,2.48],[-1.06,-0.48],[-0.96,1.58],[-0.91,-0.88],[-0.86,2.78],[-0.81,0.68],[-0.76,-1.38],[-0.71,1.98],[-0.66,0.08],[-0.61,3.58],[-0.56,-0.88],[-0.51,1.28],[-0.46,-2.08],[-0.41,2.58],[-0.36,0.38],[-0.31,-1.28],[-0.26,1.58],[-0.21,-0.38],[-0.16,3.08],[-0.11,0.88],[-0.06,-1.78],[-0.01,2.28],[0.04,-0.18],[0.09,1.08],[0.14,-2.58],[0.19,-0.78],[0.24,2.08],[0.29,0.38],[0.34,-1.98],[0.39,-0.48],[0.44,1.48],[0.49,-3.08],[0.54,-1.08],[0.59,0.48],[0.64,-2.08],[0.69,-0.58],[0.74,1.18],[0.79,-1.58],[0.84,-3.68],[0.89,-0.38],[0.94,-2.18],[0.99,0.38],[1.04,-1.18],[1.09,-3.08],[1.14,-0.08],[1.19,-1.88],[1.24,-0.98],[1.34,-2.38],[1.44,-0.18],[-1.26,0.18],[-1.36,2.58],[-1.46,-0.38],[-0.48,4.48],[0.08,3.68],[0.18,-4.98],[-0.28,-3.08],[0.72,-4.68],[1.56,-2.08],[-0.88,-2.68],[0.02,0.08],[0.58,2.78],[-0.62,-0.18],[1.02,-4.48]];

const points = [pts1, pts2, pts3, pts4, pts5, pts6];
const yTicks = [yTicks1, yTicks2, yTicks3, yTicks4, yTicks5, yTicks6];
const yRanges = [[-3.53, 3.91], [-6.84, 5.23], [-8.83, 8.72], [-3.71, 3.85], [-6.55, 5.95], [-10.02, 12.45]];
const xRange = [-3.56, 3.26];

// layout of the 2x3 axes, in px
const lefts = [33, 320.5, 608.5];
const tops = [27, 322];
const W = 239.5, H = 244.5;

const fmt = (v) => String(v).replace('-', '\u2212');
const fmt1 = (v) => v.toFixed(1).replace('-', '\u2212');

const myChart = echarts.init(document.getElementById('main'));

const grid = [], xAxis = [], yAxis = [], series = [], title = [];
for (let i = 0; i < 6; i++) {
  const l = lefts[i % 3], t = tops[Math.floor(i / 3)];
  grid.push({
    left: l, top: t, width: W, height: H,
    show: true, borderColor: '#000', borderWidth: 1, backgroundColor: '#fff'
  });
  title.push({
    text: titles[i],
    left: l + W / 2, top: t - 25, textAlign: 'center',
    textStyle: { fontFamily: 'DejaVu Sans', fontSize: 16.5, fontWeight: 'normal', color: '#000' }
  });
  xAxis.push({
    type: 'value', gridIndex: i, min: xRange[0], max: xRange[1],
    axisLine: { show: false, onZero: false },
    splitLine: { show: false },
    axisTick: { show: true, length: 5, lineStyle: { color: '#000' }, customValues: xTicks },
    axisLabel: { color: '#000', fontFamily: 'DejaVu Sans', fontSize: 13.5, margin: 9,
      customValues: xTicks, formatter: fmt }
  });
  yAxis.push({
    type: 'value', gridIndex: i, min: yRanges[i][0], max: yRanges[i][1],
    axisLine: { show: false, onZero: false },
    splitLine: { show: false },
    axisTick: { show: true, length: 5, lineStyle: { color: '#000' }, customValues: yTicks[i] },
    axisLabel: { color: '#000', fontFamily: 'DejaVu Sans', fontSize: 13.5, margin: 8,
      customValues: yTicks[i], formatter: i === 2 ? fmt1 : fmt }
  });
  series.push({
    type: 'scatter', xAxisIndex: i, yAxisIndex: i,
    symbol: 'circle', symbolSize: 5,
    itemStyle: { color: '#9400d3', opacity: 1 },
    data: points[i]
  });
}

myChart.setOption({
  animation: false,
  backgroundColor: '#fff',
  title, grid, xAxis, yAxis, series
});
</script>
</body>
</html>
